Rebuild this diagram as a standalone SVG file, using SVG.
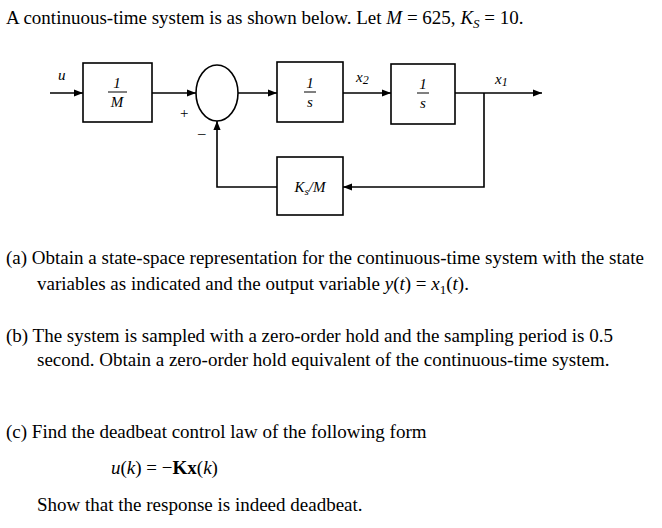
<svg xmlns="http://www.w3.org/2000/svg" width="662" height="528" viewBox="0 0 662 528">
<defs><marker id="a" viewBox="0 0 10 10" refX="10" refY="5" markerWidth="9" markerHeight="9" markerUnits="userSpaceOnUse" orient="auto"><path d="M0,1 L10,5 L0,9z" fill="#000"/></marker></defs>
<style>
text{font-family:"Liberation Serif",serif;fill:#000}
.t{font-size:19px}
.d{font-size:15px;font-style:italic}
.b{fill:#fff;stroke:#000;stroke-width:1.6}
.c{fill:none;stroke:#000;stroke-width:1.6}
</style>
<rect width="662" height="528" fill="#fff"/>
<text class="t" x="6" y="24">A continuous-time system is as shown below. Let <tspan font-style="italic">M</tspan> = 625, <tspan font-style="italic">K</tspan><tspan font-size="13" font-style="italic" dy="4">S</tspan><tspan dy="-4"> = 10.</tspan></text>
<g id="connectors" class="c">
<path d="M50,93 H83" marker-end="url(#a)"/>
<path d="M152,93 H196" marker-end="url(#a)"/>
<path d="M238,93 H277" marker-end="url(#a)"/>
<path d="M343,93 H391" marker-end="url(#a)"/>
<path d="M455,93 H542" marker-end="url(#a)"/>
<path d="M484,93 V187 H343" marker-end="url(#a)"/>
<path d="M277,187 H217 V121" marker-end="url(#a)"/>
</g>
<g id="gain1"><rect class="b" x="83" y="63" width="69" height="59"/><text class="d" x="117" y="88" text-anchor="middle">1</text><line x1="108" y1="92" x2="127" y2="92" stroke="#000"/><text class="d" x="117" y="107" text-anchor="middle">M</text></g>
<g id="sum"><ellipse class="b" cx="217" cy="93" rx="21" ry="28"/></g>
<g id="int1"><rect class="b" x="277" y="62" width="66" height="60"/><text class="d" x="310" y="88" text-anchor="middle">1</text><line x1="304" y1="92" x2="316" y2="92" stroke="#000"/><text class="d" x="310" y="107" text-anchor="middle">s</text></g>
<g id="int2"><rect class="b" x="391" y="64" width="64" height="60"/><text class="d" x="423" y="89" text-anchor="middle">1</text><line x1="417" y1="93" x2="429" y2="93" stroke="#000"/><text class="d" x="423" y="108" text-anchor="middle">s</text></g>
<g id="fb"><rect class="b" x="277" y="157" width="66" height="58"/><text class="d" x="310" y="192" text-anchor="middle">K<tspan font-size="11" dy="3">s</tspan><tspan dy="-3">/M</tspan></text></g>
<g id="labels" class="d"><text x="58" y="80">u</text><text x="356" y="82">x<tspan font-size="12" dy="2">2</tspan></text><text x="495" y="84">x<tspan font-size="12" dy="2">1</tspan></text><text x="180" y="118" font-style="normal">+</text><text x="198" y="138" font-style="normal">–</text></g>
<text class="t" x="6" y="264">(a) Obtain a state-space representation for the continuous-time system with the state</text>
<text class="t" x="37" y="290">variables as indicated and the output variable <tspan font-style="italic">y</tspan>(<tspan font-style="italic">t</tspan>) = <tspan font-style="italic">x</tspan><tspan font-size="13" dy="4">1</tspan><tspan dy="-4">(</tspan><tspan font-style="italic">t</tspan>).</text>
<text class="t" x="6" y="342">(b) The system is sampled with a zero-order hold and the sampling period is 0.5</text>
<text class="t" x="37" y="366">second. Obtain a zero-order hold equivalent of the continuous-time system.</text>
<text class="t" x="6" y="438">(c)  Find the deadbeat control law of the following form</text>
<text class="t" x="111" y="474"><tspan font-style="italic">u</tspan>(<tspan font-style="italic">k</tspan>) = −<tspan font-weight="bold">Kx</tspan>(<tspan font-style="italic">k</tspan>)</text>
<text class="t" x="37" y="511">Show that the response is indeed deadbeat.</text>
</svg>
